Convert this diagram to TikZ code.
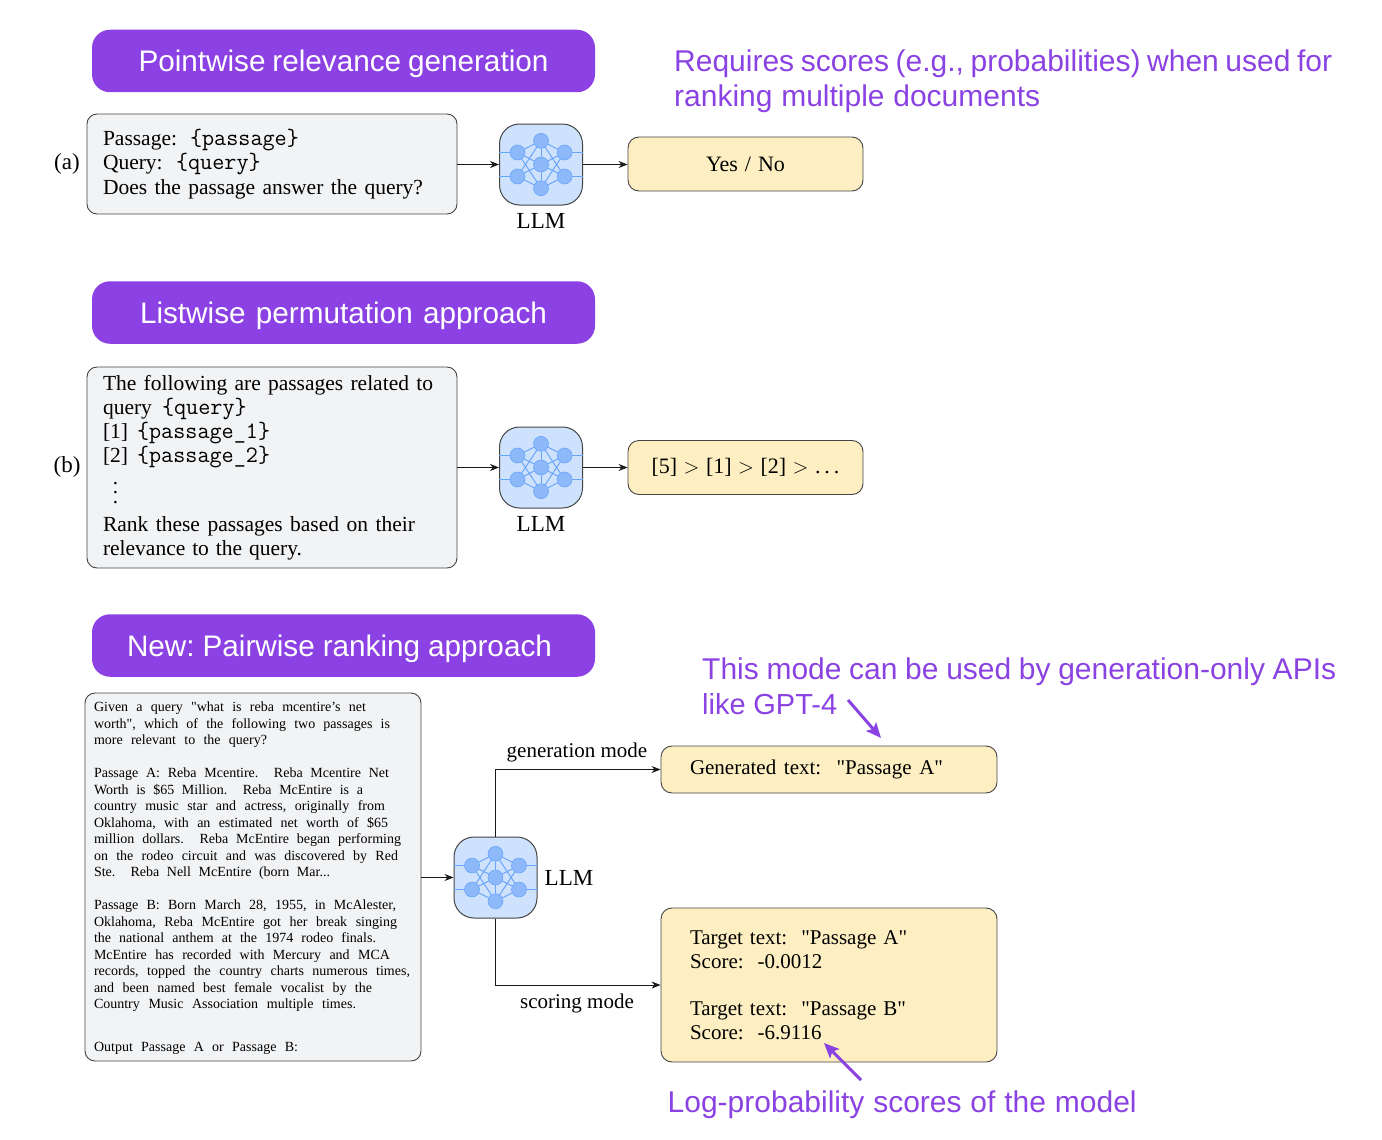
\documentclass[tikz,border=0pt]{standalone}
\usepackage{fontspec}
\setmainfont{Liberation Serif}
\setsansfont{Liberation Sans}
\newfontfamily\rawserif{Liberation Serif}
\usetikzlibrary{arrows.meta}
\definecolor{purp}{HTML}{8A42E2}
\definecolor{headp}{HTML}{8B41E3}
\definecolor{promptbg}{HTML}{F2F3F5}
\definecolor{outbg}{HTML}{FDEFC2}
\definecolor{iconbg}{HTML}{CFE2FD}
\definecolor{neur}{HTML}{8DB8FA}
\definecolor{neurl}{HTML}{6AA6F8}
\definecolor{edge}{HTML}{444444}
\newcommand{\fs}[2]{\fontsize{#1}{#2}\selectfont}
\newcommand{\wl}[2]{\leavevmode\hbox to #1pt{\spaceskip=0.25em plus 1fil minus 1fil\relax #2}}
\newcommand{\pad}[2]{\leavevmode\hbox to #1pt{#2\hfil}}
\newcommand{\qq}{{\rawserif"}}
\newcommand{\mt}[1]{{\ttfamily\fs{23.5}{24.3}#1}}
\tikzset{
  x=1pt,y=-1pt,
  header/.style={fill=headp,rounded corners=18pt,minimum width=503pt,minimum height=62.5pt,text=white,inner sep=0pt,text depth=0pt,font=\sffamily\fs{29.7}{34}},
  promptbox/.style={draw=edge,fill=promptbg,rounded corners=10pt,line width=0.9pt,align=left,anchor=center,inner ysep=0pt},
  outbox/.style={draw=edge,fill=outbg,rounded corners=11pt,line width=0.9pt,inner sep=0pt},
  note/.style={text=purp,font=\sffamily\fs{30}{35},anchor=base west,align=left,inner sep=0pt},
  lab/.style={inner sep=0pt,font=\fs{21}{24}},
  flow/.style={-{Stealth[length=9pt,width=7pt]},line width=0.8pt,color=black!90},
  callout/.style={-{Stealth[length=15pt,width=13pt,inset=3pt]},line width=3pt,color=purp},
  iconbox/.style={draw=edge,fill=iconbg,rounded corners=20pt,line width=1pt,minimum width=83pt,minimum height=81pt,inner sep=0pt},
  neuron/.style={circle,fill=neur,draw=neurl,line width=0.6pt,minimum size=15pt,inner sep=0pt},
  synapse/.style={draw=neurl,line width=1pt},
}
\newcommand{\llm}[3]{%
  \node[iconbox] (#1) at (#2,#3) {};
  \begin{scope}[shift={(#2,#3)}]
    \node[neuron] (#1T) at (0,-23.7) {};
    \node[neuron] (#1M) at (0,0) {};
    \node[neuron] (#1B) at (0,23.7) {};
    \node[neuron] (#1A) at (-23.5,-12) {};
    \node[neuron] (#1C) at (-23.5,12) {};
    \node[neuron] (#1D) at (23.5,-12) {};
    \node[neuron] (#1E) at (23.5,12) {};
  \end{scope}
  \draw[synapse] (#1T)--(#1M) (#1M)--(#1B);
  \foreach \s in {A,C,D,E}{\foreach \t in {T,M,B}{\draw[synapse] (#1\s)--(#1\t);}}
  \draw[synapse] (#1A)--(#1A-|#1.west) (#1C)--(#1C-|#1.west) (#1D)--(#1D-|#1.east) (#1E)--(#1E-|#1.east);
}
\begin{document}
\frenchspacing
\begin{tikzpicture}
\useasboundingbox (0,0) rectangle (1382,1140);
% headers
\node[header] (h1) at (343.5,61) {\wl{410}{Pointwise relevance generation}};
\node[header] (h2) at (343.5,312.5) {\wl{407}{Listwise permutation approach}};
\node[header] (h3) at (343.5,645.5) {\hspace*{-8pt}\wl{425}{New: Pairwise ranking approach}};
% notes
\node[note] (n1) at (674,71) {\wl{658}{Requires scores (e.g., probabilities) when used for}};
\node[note] (n2) at (674,106.5) {\wl{366}{ranking multiple documents}};
\node[note] (n3) at (702,679) {\wl{634}{This mode can be used by generation-only APIs}};
\node[note,font=\sffamily\fs{29}{35}] (n4) at (702,714) {\wl{135}{like GPT-4}};
\node[note] (n5) at (667.5,1112) {\wl{469}{Log-probability scores of the model}};
% row a
\node[lab,font=\fs{23}{26}] (la) at (67,164) {(a)};
\node[promptbox,inner xsep=16pt,text width=338pt,minimum height=100pt,font=\fs{21.5}{24.5}] (pa) at (272,164)
 {\pad{87}{Passage:}\mt{\{passage\}}\\
  \pad{73}{Query:}\mt{\{query\}}\\
  \wl{320}{Does the passage answer the query?}};
\llm{ia}{541}{164.5}
\node[lab,font=\fs{23}{26}] (ta) at (541,221) {LLM};
\node[outbox,minimum width=235pt,minimum height=54pt,font=\fs{22}{24}] (oa) at (745.5,164) {\wl{79}{Yes / No}};
\draw[flow] (pa.east|-ia.west) -- (ia.west);
\draw[flow] (ia.east) -- (oa.west|-ia.east);
% row b
\node[lab,font=\fs{23}{26}] (lb) at (67,467) {(b)};
\node[promptbox,inner xsep=16pt,text width=338pt,minimum height=201pt,font=\fs{21.5}{24.3}] (pb) at (272,467.5)
 {\wl{330}{The following are passages related to}\\
  \pad{59}{query}\mt{\{query\}}\\
  \pad{34}{[1]}\mt{\{passage\_1\}}\\
  \pad{34}{[2]}\mt{\{passage\_2\}}\\[44pt]
  \wl{312}{Rank these passages based on their}\\
  \wl{199}{relevance to the query.}};
\node[lab,font=\fs{21}{9.5},align=left] (pbdots) at (115.5,493) {.\\.\\.};
\llm{ib}{541}{467.5}
\node[lab,font=\fs{23}{26}] (tb) at (541,524) {LLM};
\node[outbox,minimum width=235pt,minimum height=54pt,font=\fs{22}{24}] (ob) at (745.5,467.5) {\wl{188}{[5] $>$ [1] $>$ [2] $>$ .\hspace{4pt}.\hspace{4pt}.}};
\draw[flow] (pb.east|-ib.west) -- (ib.west);
\draw[flow] (ib.east) -- (ob.west|-ib.east);
% row c
\node[promptbox,inner xsep=9pt,text width=318pt,minimum height=368pt,font=\fs{14}{16.5}] (pc) at (253,877)
 {\rule{0pt}{12pt}\wl{272}{Given a query \qq what is reba mcentire's net}\\
  \wl{296}{worth\qq, which of the following two passages is}\\
  \wl{173}{more relevant to the query?}\\[16.5pt]
  \wl{295}{Passage A: Reba Mcentire.\ \ Reba Mcentire Net}\\
  \wl{269}{Worth is \$65 Million.\ \ Reba McEntire is a}\\
  \wl{291}{country music star and actress, originally from}\\
  \wl{294}{Oklahoma, with an estimated net worth of \$65}\\
  \wl{307}{million dollars.\ \ Reba McEntire began performing}\\
  \wl{304}{on the rodeo circuit and was discovered by Red}\\
  \wl{236}{Ste.\ \ Reba Nell McEntire (born Mar...}\\[16.5pt]
  \wl{302}{Passage B: Born March 28, 1955, in McAlester,}\\
  \wl{303}{Oklahoma, Reba McEntire got her break singing}\\
  \wl{282}{the national anthem at the 1974 rodeo finals.}\\
  \wl{296}{McEntire has recorded with Mercury and MCA}\\
  \wl{316}{records, topped the country charts numerous times,}\\
  \wl{278}{and been named best female vocalist by the}\\
  \wl{262}{Country Music Association multiple times.}\\[26pt]
  \wl{204}{Output Passage A or Passage B:}};
\llm{ic}{495.5}{877.5}
\node[lab,anchor=west,font=\fs{23}{26}] (tc) at (544.5,877.5) {LLM};
\node[outbox,minimum width=336pt,minimum height=47pt,align=left,anchor=center,text width=278pt,inner xsep=29pt,font=\fs{21}{24}] (og) at (829,769.5) {\wl{253}{Generated text:\ \ \qq Passage A\qq}};
\node[outbox,minimum width=336pt,minimum height=154pt,align=left,anchor=center,text width=278pt,inner xsep=29pt,font=\fs{21}{24}] (ot) at (829,985)
 {Target text:\ \ \qq Passage A\qq\\Score:\ \ -0.0012\\[23pt]Target text:\ \ \qq Passage B\qq\\Score:\ \ -6.9116};
\draw[flow] (pc.east|-ic.west) -- (ic.west);
\draw[flow] (ic.north) |- (og.west);
\draw[flow] (ic.south) |- (ot.west);
\node[lab] (lg) at (577,752.5) {generation mode};
\node[lab] (ls) at (577,1003.5) {scoring mode};
% callouts
\coordinate (c1s) at (848,700);
\coordinate (c1e) at (881,738);
\coordinate (c2s) at (861,1080);
\coordinate (c2e) at (824,1043);
\draw[callout] (c1s) -- (c1e);
\draw[callout] (c2s) -- (c2e);
\end{tikzpicture}
\end{document}
